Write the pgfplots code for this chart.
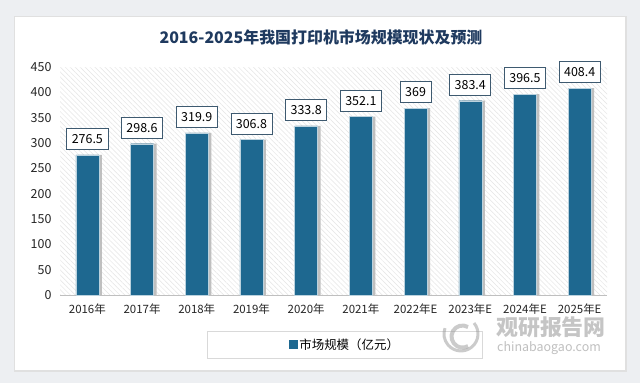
\documentclass[border=0pt]{standalone}
\usepackage{fontspec}
\setmainfont{Noto Sans CJK SC}
\usepackage{pgfplots}
\pgfplotsset{compat=1.18}
\usetikzlibrary{patterns.meta}
\definecolor{barblue}{HTML}{1E6890}
\definecolor{bggrey}{HTML}{EDEFF2}
\definecolor{titleblue}{HTML}{1F3A5F}
\definecolor{labelborder}{HTML}{3E5A70}
\definecolor{axisgrey}{HTML}{BFBFBF}
\begin{document}
\begin{tikzpicture}[x=1bp,y=1bp]
\useasboundingbox (0,0) rectangle (640,383);
\fill[bggrey] (0,0) rectangle (640,383);
\fill[black!12] (14,11) rectangle (627,367);
\fill[white] (15,13) rectangle (625,366);
\node[font=\bfseries\fontsize{16}{18}\selectfont, text=titleblue] at (321,346) {2016-2025年我国打印机市场规模现状及预测};
\draw[black!15, fill=white, line width=0.8bp] (207,25) rectangle (482,52);
\begin{scope}[opacity=0.5]
\draw[black!40, line width=4bp] (468,56) arc (60:300:11);
\draw[black!40, line width=3bp] (474,60) arc (40:-200:17);
\node[font=\bfseries\fontsize{22}{24}\selectfont, text=black!45] at (551,56) {观研报告网};
\node[font=\fontsize{12.5}{15}\selectfont, text=black!50] at (549,35) {chinabaogao.com};
\end{scope}
\begin{axis}[
  at={(60bp,88bp)}, anchor=south west,
  width=547bp, height=228bp, scale only axis,
  xmin=-0.5, xmax=9.5, ymin=0, ymax=450,
  ytick={0,50,...,450},
  xtick={0,...,9},
  xticklabels={2016年,2017年,2018年,2019年,2020年,2021年,2022年E,2023年E,2024年E,2025年E},
  axis x line*=bottom, axis y line*=left,
  y axis line style={draw=none},
  x axis line style={draw=axisgrey, line width=0.8bp},
  major tick length=0pt,
  /pgf/number format/assume math mode=true,
  ticklabel style={text=black!85},
  xticklabel style={font=\fontsize{11.5}{13}\selectfont, yshift=-5bp},
  yticklabel style={font=\fontsize{12.5}{14}\selectfont, xshift=-5bp},
  axis background/.style={pattern={Lines[angle=-45,distance=3.5bp,line width=0.5bp]}, pattern color=black!10},
  ybar, bar width=23bp,
  legend style={at={(0.521,-0.217)}, anchor=center, draw=none, fill=none, font=\fontsize{12.5}{14}\selectfont},
  legend image code/.code={\fill[barblue] (0bp,-4bp) rectangle (8bp,4bp);},
]
\addplot[fill=black!25, draw=none, bar shift=3bp, forget plot] coordinates {
(0,276.5) (1,298.6) (2,319.9) (3,306.8) (4,333.8) (5,352.1) (6,369) (7,383.4) (8,396.5) (9,408.4)};
\addplot[fill=barblue, draw=white!70!barblue, line width=0.4bp, bar shift=0bp,
  nodes near coords,
  every node near coord/.append style={/pgf/number format/fixed, /pgf/number format/precision=1,
    /pgf/number format/assume math mode=true,
    draw=labelborder, fill=white, line width=0.8bp,
    inner xsep=5bp, inner ysep=6bp, text height=9bp, text depth=0bp,
    font=\fontsize{12.5}{14}\selectfont, text=black, anchor=south, yshift=5bp}
] coordinates {
(0,276.5) (1,298.6) (2,319.9) (3,306.8) (4,333.8) (5,352.1) (6,369) (7,383.4) (8,396.5) (9,408.4)};
\addlegendentry{市场规模（亿元）}
\end{axis}
\end{tikzpicture}
\end{document}
